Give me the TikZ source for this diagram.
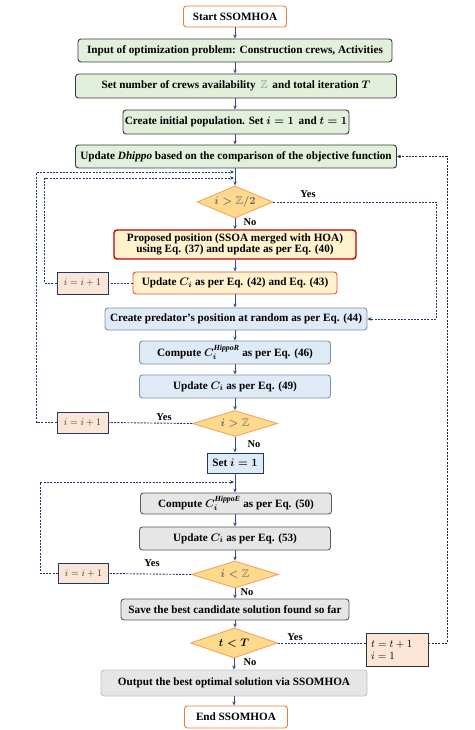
\documentclass[tikz,border=0pt]{standalone}
\usepackage{amssymb}
\usepackage{fontspec}
\setmainfont{Liberation Serif}
\usetikzlibrary{shapes.geometric,arrows.meta}
\definecolor{grnF}{HTML}{E2EFDA}
\definecolor{grnD}{HTML}{3A3A3A}
\definecolor{orgD}{HTML}{ED7D31}
\definecolor{dmF}{HTML}{FFD98C}
\definecolor{dmD}{HTML}{F4A460}
\definecolor{crF}{HTML}{FFF2CC}
\definecolor{redD}{HTML}{C00000}
\definecolor{oreD}{HTML}{E0533A}
\definecolor{pchF}{HTML}{FBE5D6}
\definecolor{navy}{HTML}{1F3864}
\definecolor{bluF}{HTML}{DEEBF7}
\definecolor{bluD}{HTML}{7F8FA6}
\definecolor{gryF}{HTML}{E7E6E6}
\definecolor{gryD}{HTML}{5A5A5A}
\definecolor{arr}{HTML}{2F4F8F}
\tikzset{
  base/.style={font=\fontsize{11.2}{12.5}\selectfont\bfseries\boldmath, inner sep=1pt, align=center, line width=0.9pt},
  term/.style={base, draw=orgD, fill=white, rounded corners=3pt},
  gbox/.style={base, draw=grnD, fill=grnF, rounded corners=3pt},
  dia/.style={base, diamond, aspect=2.5, draw=dmD, fill=dmF, inner sep=0pt, text=black!60},
  rbox/.style={base, draw=redD, fill=crF, rounded corners=3pt, line width=1.4pt},
  obox/.style={base, draw=oreD, fill=crF, rounded corners=3pt},
  ibox/.style={base, draw=navy, fill=pchF, font=\fontsize{10}{11}\selectfont, text=black!80},
  bbox/.style={base, draw=bluD, fill=bluF, rounded corners=3pt},
  sbox/.style={base, draw=navy, fill=bluF},
  ybox/.style={base, draw=gryD, fill=gryF, rounded corners=3pt},
  tbx/.style={base, draw=black!80, fill=pchF, font=\fontsize{10.5}{12}\selectfont, align=left},
  ar/.style={draw=arr, line width=0.8pt, -{Stealth[length=4pt,width=3.5pt]}},
  dl/.style={draw=navy, line width=0.9pt, dash pattern=on 2pt off 1.3pt},
  dla/.style={dl, -{Stealth[length=4pt,width=3.5pt]}},
  lab/.style={font=\fontsize{10.5}{11}\selectfont\bfseries, inner sep=0pt}
}
\begin{document}
\begin{tikzpicture}[x=1pt,y=-1pt]
\useasboundingbox (0,0) rectangle (474,730);
\node[term, minimum width=103pt, minimum height=21pt] (start) at (235,16.5) {Start SSOMHOA};
\node[gbox, minimum width=314pt, minimum height=23pt] (input) at (235,50.5) {Input of optimization problem: Construction crews, Activities};
\node[gbox, minimum width=321pt, minimum height=24pt] (setn) at (236,86) {Set number of crews availability \,$\color{black!45}\mathbb{Z}$\, and total iteration $T$};
\node[gbox, minimum width=226pt, minimum height=24pt] (create) at (236,122) {Create initial population. Set $i=1$ \,and $t=1$};
\node[gbox, minimum width=321pt, minimum height=23pt] (dhippo) at (236,156.5) {Update \textit{Dhippo} based on the comparison of the objective function};
\node[dia, minimum width=76pt, minimum height=32pt] (d1) at (235,202) {$i>\mathbb{Z}/2$};
\node[rbox, minimum width=242pt, minimum height=29pt] (prop) at (235,244.5) {Proposed position (SSOA merged with HOA)\\[-2pt]using Eq. (37) and update as per Eq. (40)};
\node[obox, minimum width=204pt, minimum height=22pt] (upd42) at (235,283) {Update $C_i$ as per Eq. (42) and Eq. (43)};
\node[bbox, minimum width=262pt, minimum height=22pt] (pred) at (236,319) {Create predator's position at random as per Eq. (44)};
\node[bbox, minimum width=191pt, minimum height=23pt] (comp46) at (235,352.5) {Compute $C_i^{\mathit{HippoR}}$ as per Eq. (46)};
\node[bbox, minimum width=191pt, minimum height=23pt] (upd49) at (235,386.5) {Update $C_i$ as per Eq. (49)};
\node[dia, minimum width=85pt, minimum height=26pt] (d2) at (235,423.5) {$i>\mathbb{Z}$};
\node[sbox, minimum width=56pt, minimum height=20pt] (seti) at (235,463) {Set $i=1$};
\node[ybox, minimum width=191pt, minimum height=21pt] (comp50) at (236,503.5) {Compute $C_i^{\mathit{HippoE}}$ as per Eq. (50)};
\node[ybox, minimum width=191pt, minimum height=23pt] (upd53) at (235,538.5) {Update $C_i$ as per Eq. (53)};
\node[dia, minimum width=87pt, minimum height=27pt] (d3) at (235,574.5) {$i<\mathbb{Z}$};
\node[ybox, minimum width=228pt, minimum height=21pt] (save) at (235,609.5) {Save the best candidate solution found so far};
\node[dia, minimum width=87pt, minimum height=30pt, text=black] (d4) at (234,643) {$t<T$};
\node[base, fill=gryF, draw=gryF!85!black, rounded corners=3pt, minimum width=266pt, minimum height=26pt] (out) at (234,683) {Output the best optimal solution via SSOMHOA};
\node[term, minimum width=103pt, minimum height=22pt] (end) at (236,717) {End SSOMHOA};
\node[ibox, minimum width=51pt, minimum height=22pt] (inc1) at (82.5,283) {$i=i+1$};
\node[ibox, minimum width=51pt, minimum height=21pt] (inc2) at (82.5,422.5) {$i=i+1$};
\node[ibox, minimum width=50pt, minimum height=20pt] (inc3) at (83.5,573.5) {$i=i+1$};
\node[tbx, minimum width=62pt, minimum height=33pt, text width=52pt] (tbox) at (397,649.5) {$t=t+1$\\$i=1$};
\coordinate (j1) at (235,172);
\coordinate (j2) at (235,178);
\coordinate (j3) at (235,482);
% main flow
\draw[ar] (start) -- (input);
\draw[ar] (input) -- (input.south |- setn.north);
\draw[ar] (setn.south -| input.south) -- (input.south |- create.north);
\draw[ar] (create.south -| input.south) -- (input.south |- dhippo.north);
\draw[ar] (dhippo.south -| d1.north) -- (d1.north);
\draw[ar] (d1) -- (prop);
\draw[ar] (prop) -- (upd42);
\draw[ar] (upd42) -- (upd42.south |- pred.north);
\draw[ar] (pred.south -| comp46.north) -- (comp46.north);
\draw[ar] (comp46) -- (upd49);
\draw[ar] (upd49) -- (d2);
\draw[ar] (d2) -- (seti);
\draw[ar] (seti.south) -- (seti.south |- comp50.north);
\draw[ar] (comp50.south -| upd53.north) -- (upd53.north);
\draw[ar] (upd53) -- (d3);
\draw[ar] (d3) -- (save);
\draw[ar] (save.south -| d3.south) -- (d3.south |- d4.north);
\draw[ar] (d4.south) -- (d4.south |- out.north);
\draw[ar] (out.south -| d4.south) -- (d4.south |- end.north);
% dashed loops
\draw[dl] (upd42.west) -- (inc1.east);
\draw[dl] (d2.west) -- (inc2.east);
\draw[dl] (d3.west) -- (inc3.east);
\draw[dla] (inc1.west) -- ++(-12,0) |- ([xshift=-1pt]j2);
\draw[dla] (inc2.west) -- ++(-20,0) |- ([xshift=-1pt]j1);
\draw[dla] (inc3.west) -- ++(-17.5,0) |- ([xshift=-1pt]j3);
\draw[dla] (d1.east) -- ++(163,0) |- (pred.east);
\draw[dl] (d4.east) -- (d4.east -| tbox.west);
\draw[dla, draw=black!85] (tbox.east |- d4.east) -- (447,643) |- (dhippo.east);
% labels
\node[lab] (y1) at (308,194) {Yes};
\node[lab] (n1) at (250,222) {No};
\node[lab] (y2) at (164,417) {Yes};
\node[lab] (n2) at (254,444) {No};
\node[lab] (y3) at (152,563) {Yes};
\node[lab] (n3) at (247,592) {No};
\node[lab] (y4) at (295,637) {Yes};
\node[lab] (n4) at (250,662) {No};
\end{tikzpicture}
\end{document}
